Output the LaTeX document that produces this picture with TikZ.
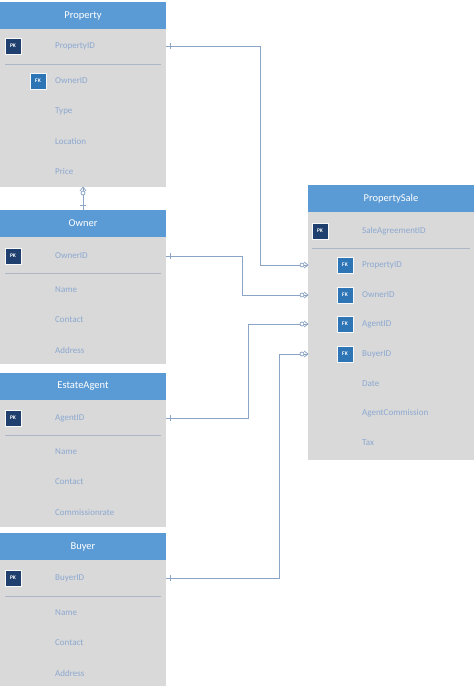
\documentclass[tikz,border=0pt]{standalone}
\usepackage{fontspec}
\setmainfont{Carlito}
\usetikzlibrary{positioning}
\definecolor{headblue}{HTML}{5B9BD5}
\definecolor{bodygrey}{HTML}{D9D9D9}
\definecolor{fieldblue}{RGB}{140,168,208}
\definecolor{pkblue}{HTML}{1F3F6E}
\definecolor{fkblue}{HTML}{2E75B6}
\definecolor{linkblue}{RGB}{140,164,198}
\definecolor{sepgrey}{RGB}{172,182,196}

\begin{document}
\begin{tikzpicture}[
		x=1pt, y=-1pt,
		head/.style={fill=headblue, text=white, font=\fontsize{10.5}{11}\selectfont, minimum width=166pt, minimum height=27pt, inner sep=0pt, outer sep=0pt, anchor=north west},
		body/.style={fill=bodygrey, minimum width=166pt, inner sep=0pt, outer sep=0pt},
		field/.style={text=fieldblue, font=\fontsize{9}{10}\selectfont, anchor=west, inner sep=0pt},
		pk/.style={fill=pkblue, draw=white!85!bodygrey, line width=0.6pt, text=white, font=\fontsize{5.5}{6}\selectfont\bfseries, minimum size=16pt, inner sep=0pt},
		fk/.style={pk, fill=fkblue},
		sep/.style={draw=sepgrey, line width=0.7pt},
		link/.style={draw=linkblue, line width=0.8pt},
	]
	\useasboundingbox (0,0) rectangle (474,690);

	% Property table
	\node[head] (prop-head) at (0,2) {Property};
	\node[body, minimum height=158pt, below=0pt of prop-head] (prop-body) {};
	\node[pk] (prop-pk) at (13,46) {PK};
	\node[field] (p-pid) at (55,46) {PropertyID};
	\draw[sep] (5,64) -- (161,64);
	\node[fk] (prop-fk) at (38,81) {FK};
	\node[field] (p-oid) at (55,81) {OwnerID};
	\node[field] (p-type) at (55,111) {Type};
	\node[field] (p-loc) at (55,141) {Location};
	\node[field] (p-price) at (55,171) {Price};

	% Owner table
	\node[head] (own-head) at (0,210) {Owner};
	\node[body, minimum height=127pt, below=0pt of own-head] (own-body) {};
	\node[pk] (own-pk) at (13,256) {PK};
	\node[field] (o-oid) at (55,256) {OwnerID};
	\draw[sep] (5,273) -- (161,273);
	\node[field] (o-name) at (55,290) {Name};
	\node[field] (o-contact) at (55,320) {Contact};
	\node[field] (o-addr) at (55,350) {Address};

	% EstateAgent table
	\node[head] (agt-head) at (0,373) {EstateAgent};
	\node[body, minimum height=127pt, below=0pt of agt-head] (agt-body) {};
	\node[pk] (agt-pk) at (13,418) {PK};
	\node[field] (a-aid) at (55,418) {AgentID};
	\draw[sep] (5,435) -- (161,435);
	\node[field] (a-name) at (55,452) {Name};
	\node[field] (a-contact) at (55,482) {Contact};
	\node[field] (a-rate) at (55,512) {Commissionrate};

	% Buyer table
	\node[head] (buy-head) at (0,533) {Buyer};
	\node[body, minimum height=126pt, below=0pt of buy-head] (buy-body) {};
	\node[pk] (buy-pk) at (13,578) {PK};
	\node[field] (b-bid) at (55,578) {BuyerID};
	\draw[sep] (5,596) -- (161,596);
	\node[field] (b-name) at (55,613) {Name};
	\node[field] (b-contact) at (55,643) {Contact};
	\node[field] (b-addr) at (55,673) {Address};

	% PropertySale table
	\node[head] (sale-head) at (308,185) {PropertySale};
	\node[body, minimum height=248pt, below=0pt of sale-head] (sale-body) {};
	\node[pk] (sale-pk) at (320,231) {PK};
	\node[field] (s-said) at (362,231) {SaleAgreementID};
	\draw[sep] (312,248) -- (470,248);
	\node[fk] (sale-fk1) at (345,265) {FK};
	\node[field] (s-pid) at (362,265) {PropertyID};
	\node[fk] (sale-fk2) at (345,295) {FK};
	\node[field] (s-oid) at (362,295) {OwnerID};
	\node[fk] (sale-fk3) at (345,324) {FK};
	\node[field] (s-aid) at (362,324) {AgentID};
	\node[fk] (sale-fk4) at (345,354) {FK};
	\node[field] (s-bid) at (362,354) {BuyerID};
	\node[field] (s-date) at (362,384) {Date};
	\node[field] (s-comm) at (362,413) {AgentCommission};
	\node[field] (s-tax) at (362,443) {Tax};

	% Connectors to PropertySale
	\draw[link] (prop-body.east |- p-pid) -- ++(94,0) |- (sale-body.west |- s-pid);
	\draw[link] (own-body.east |- o-oid) -- ++(76,0) |- (sale-body.west |- s-oid);
	\draw[link] (agt-body.east |- a-aid) -- ++(82,0) |- (sale-body.west |- s-aid);
	\draw[link] (buy-body.east |- b-bid) -- ++(113,0) |- (sale-body.west |- s-bid);

	% Property to Owner
	\draw[link] (prop-body.south) -- (own-head.north -| prop-body.south);

	% One ends
	\foreach \f in {p-pid,o-oid,a-aid,b-bid}
		\draw[link] (prop-body.east |- \f) ++(4,-3) -- ++(0,6);
	\draw[link] (prop-body.south) ++(-3,18) -- ++(6,0);

	% Zero-or-many ends
	\foreach \f in {s-pid,s-oid,s-aid,s-bid} {
		\draw[link] (sale-body.west |- \f) -- ++(-4,-3);
		\draw[link] (sale-body.west |- \f) -- ++(-4,3);
		\draw[link, fill=white] (sale-body.west |- \f) ++(-6,0) circle[radius=2pt];
	}
	\draw[link] (prop-body.south) -- ++(-3,4) (prop-body.south) -- ++(3,4);
	\draw[link, fill=white] (prop-body.south) ++(0,6) circle[radius=2pt];
\end{tikzpicture}
\end{document}
